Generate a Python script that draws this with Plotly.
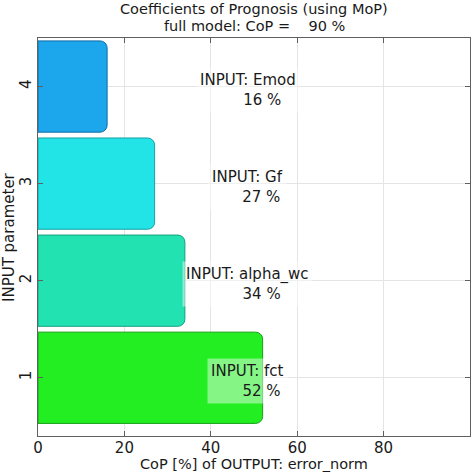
import plotly.graph_objects as go

# values
params = [1, 2, 3, 4]
names = ["fct", "alpha_wc", "Gf", "Emod"]
cop = [52, 34, 27, 16]
full_cop = 90

bar_colors = ["#22ee22", "#22e2b2", "#22e4e6", "#1ca6ec"]
edge_colors = ["#14a014", "#14a07c", "#14a0a4", "#0c6ca8"]

font = "DejaVu Sans"
ink = "#1a1a1a"

fig = go.Figure()
fig.add_trace(go.Bar(
    x=cop, y=params, orientation="h", width=0.94,
    marker=dict(color=bar_colors, line=dict(color=edge_colors, width=1), cornerradius=7),
    showlegend=False, hoverinfo="skip",
))

pad = "&nbsp;" * 6
for p, n, v in zip(params, names, cop):
    fig.add_annotation(
        x=48.5, y=p, xref="x", yref="y",
        text=f"INPUT: {n}<br>{pad}{v} %",
        showarrow=False, align="center", yshift=-3,
        font=dict(family=font, size=15, color=ink),
        bgcolor="rgba(255,255,255,0.45)", borderpad=3,
    )

# two title lines, set tight like the original
title_lines = ["Coefficients of Prognosis (using MoP)",
               f"full model: CoP = {'&nbsp;' * 3}{full_cop} %"]
for line, shift in zip(title_lines, [29, 12]):
    fig.add_annotation(
        x=0.5, y=1, xref="paper", yref="paper", yanchor="middle", yshift=shift,
        text=line, showarrow=False, font=dict(family=font, size=14.5, color=ink),
    )

fig.add_annotation(
    x=0.5, y=0, xref="paper", yref="paper", yanchor="middle", yshift=-28,
    text="CoP [%] of OUTPUT: error_norm", showarrow=False,
    font=dict(family=font, size=14.5, color=ink),
)
fig.add_annotation(
    x=0, y=0.5, xref="paper", yref="paper", xanchor="right", xshift=-18,
    text="INPUT parameter", showarrow=False, textangle=-90,
    font=dict(family=font, size=15, color=ink),
)

fig.update_layout(
    width=474, height=474,
    margin=dict(l=38, r=4, t=38, b=38),
    paper_bgcolor="white", plot_bgcolor="white",
    font=dict(family=font, size=14, color=ink),
)
fig.update_xaxes(
    range=[0, 100], tickvals=[0, 20, 40, 60, 80], automargin=False,
    showgrid=True, gridcolor="#e4e4e4", zeroline=False,
    showline=True, linecolor="#606060", linewidth=1, mirror="ticks",
    ticks="inside", ticklen=5, tickcolor="#606060", ticklabelstandoff=-2,
    tickfont=dict(family=font, size=15, color=ink),
)
fig.update_yaxes(
    range=[0.4, 4.5], tickvals=params, tickangle=-90, automargin=False,
    showgrid=True, gridcolor="#e4e4e4", zeroline=False,
    showline=True, linecolor="#606060", linewidth=1, mirror="ticks",
    ticks="inside", ticklen=5, tickcolor="#606060",
    tickfont=dict(family=font, size=15, color=ink),
)

# the page's default body margin would push the fixed-size figure off the window
fig.write_html(
    "out.html",
    config={"displayModeBar": False},
    post_script="document.body.style.margin='0px';",
)
